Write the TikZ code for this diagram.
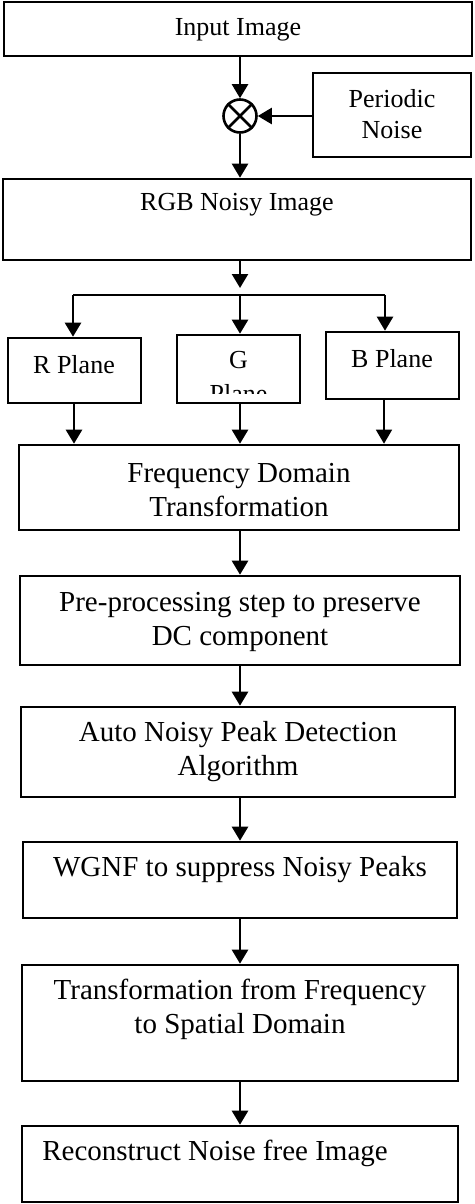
\documentclass[tikz,border=0pt]{standalone}
\usepackage{fontspec}
\setmainfont{Liberation Serif}
\usetikzlibrary{arrows.meta}
\begin{document}
\begin{tikzpicture}[x=1pt,y=-1pt,
  box/.style={draw,line width=2.6pt,rectangle,inner sep=0pt},
  big/.style={font=\fontsize{29}{34}\selectfont,align=center,inner sep=0pt},
  small/.style={font=\fontsize{26}{31}\selectfont,align=center,inner sep=0pt},
  arr/.style={line width=2.4pt,-{Triangle[width=16pt,length=14pt]}},
  thinarr/.style={line width=1.5pt,-{Triangle[width=16pt,length=14pt]}}]
\useasboundingbox (0,0) rectangle (474,1204);
% boxes
\node[box,minimum width=468pt,minimum height=54pt] (inp) at (238,29) {};
\node[box,minimum width=158pt,minimum height=84pt] (pn) at (392,115) {};
\node[draw,line width=2.6pt,circle,minimum size=33pt,inner sep=0pt] (mix) at (240,116) {};
\node[box,minimum width=468pt,minimum height=81pt] (rgb) at (237,219.5) {};
\node[box,minimum width=133pt,minimum height=65pt] (rp) at (74.5,370.5) {};
\node[box,minimum width=123pt,minimum height=68pt] (gp) at (238.5,369) {};
\node[box,minimum width=133pt,minimum height=67pt] (bp) at (392.5,365.5) {};
\node[box,minimum width=440pt,minimum height=85pt] (fdt) at (239,487.5) {};
\node[box,minimum width=440pt,minimum height=89pt] (pp) at (240,620.5) {};
\node[box,minimum width=434pt,minimum height=90pt] (anp) at (238,752) {};
\node[box,minimum width=434pt,minimum height=76pt] (wg) at (240,880) {};
\node[box,minimum width=436pt,minimum height=116pt] (tr) at (240,1023) {};
\node[box,minimum width=436pt,minimum height=76pt] (rec) at (240,1164) {};
% cross in circle
\draw[line width=2.6pt] (mix.45) -- (mix.225) (mix.135) -- (mix.315);
% texts
\node[small] (tinp) at (238,30) {Input Image};
\node[small] (tpn) at (392,114) {Periodic\\Noise};
\node[small] (trgb) at (237,205) {RGB Noisy Image};
\node[small] (trp) at (74,365) {R Plane};
\node[small] (tgp) at (238.5,360) {G};
\begin{scope}
\clip (180,375) rectangle (298,393);
\node[small,anchor=base] (tgp2) at (238.5,402) {Plane};
\end{scope}
\node[small] (tbp) at (392,359) {B Plane};
\node[big] (tfdt) at (239,490) {Frequency Domain\\Transformation};
\node[big] (tpp) at (240,621.5) {Pre-processing step to preserve\\DC component};
\node[big] (tanp) at (238,751.5) {Auto Noisy Peak Detection\\Algorithm};
\node[big] (twg) at (240,870) {WGNF to suppress Noisy Peaks};
\node[big] (ttr) at (240,1009) {Transformation from Frequency\\to Spatial Domain};
\node[big] (trec) at (215,1153) {Reconstruct Noise free Image};
% connectors
\coordinate (jl) at (73,295);
\coordinate (jc) at (240,295);
\coordinate (jr) at (385,295);
\draw[arr] (mix.north |- inp.south) -- (mix.north);
\draw[arr] (pn.west |- mix.east) -- (mix.east);
\draw[arr] (mix.south) -- (mix.south |- rgb.north);
\draw[arr] (jc |- rgb.south) -- ([yshift=7pt]jc);
\draw[line width=2.4pt] (jl) -- (jr);
\draw[arr] (jl) -- (jl |- rp.north);
\draw[arr] (jc) -- (jc |- gp.north);
\draw[arr] (jr) -- (jr |- bp.north);
\draw[arr] (74,0 |- rp.south) -- (74,0 |- fdt.north);
\draw[arr] (240,0 |- gp.south) -- (240,0 |- fdt.north);
\draw[thinarr] (384,0 |- bp.south) -- (384,0 |- fdt.north);
\draw[arr] (240,0 |- fdt.south) -- (240,0 |- pp.north);
\draw[arr] (240,0 |- pp.south) -- (240,0 |- anp.north);
\draw[arr] (240,0 |- anp.south) -- (240,0 |- wg.north);
\draw[arr] (wg.south) -- (wg.south |- tr.north);
\draw[arr] (tr.south) -- (tr.south |- rec.north);
\end{tikzpicture}
\end{document}
